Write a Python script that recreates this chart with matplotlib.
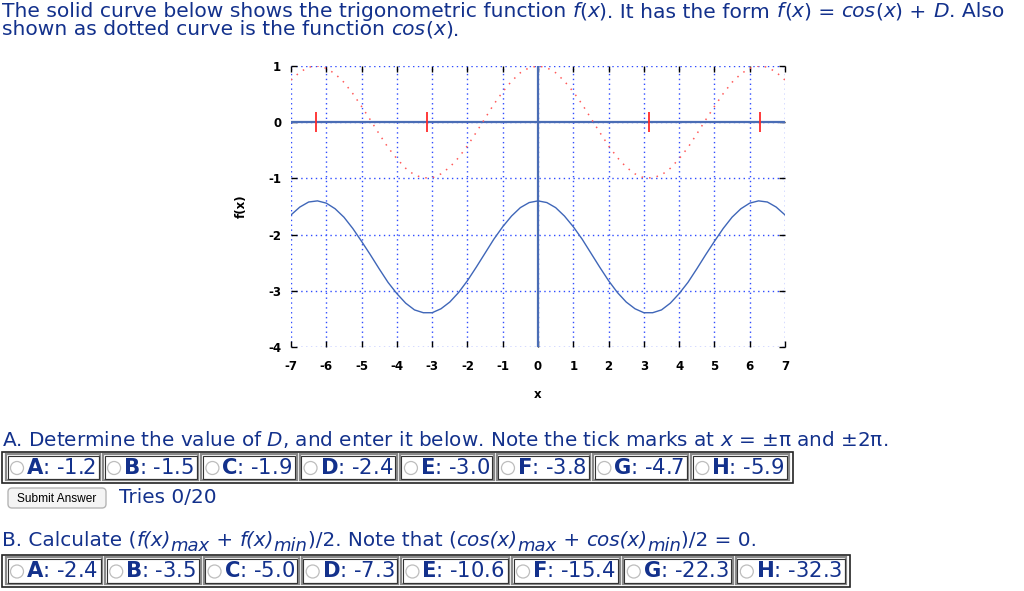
import matplotlib
matplotlib.use("Agg")
import matplotlib.pyplot as plt
from matplotlib.patches import Rectangle, Circle, FancyBboxPatch

plt.rcParams['mathtext.fontset'] = 'dejavusans'

# curve, x step 0.25
x_vals = [-7.0, -6.75, -6.5, -6.25, -6.0, -5.75, -5.5, -5.25, -5.0, -4.75, -4.5, -4.25,
          -4.0, -3.75, -3.5, -3.25, -3.0, -2.75, -2.5, -2.25, -2.0, -1.75, -1.5, -1.25,
          -1.0, -0.75, -0.5, -0.25, 0.0, 0.25, 0.5, 0.75, 1.0, 1.25, 1.5, 1.75,
          2.0, 2.25, 2.5, 2.75, 3.0, 3.25, 3.5, 3.75, 4.0, 4.25, 4.5, 4.75,
          5.0, 5.25, 5.5, 5.75, 6.0, 6.25, 6.5, 6.75, 7.0]
cos_vals = [0.75, 0.89, 0.98, 1.0, 0.96, 0.86, 0.71, 0.51, 0.28, 0.04, -0.21, -0.45,
            -0.65, -0.82, -0.94, -0.99, -0.99, -0.92, -0.80, -0.63, -0.42, -0.18, 0.07, 0.32,
            0.54, 0.73, 0.88, 0.97, 1.0, 0.97, 0.88, 0.73, 0.54, 0.32, 0.07, -0.18,
            -0.42, -0.63, -0.80, -0.92, -0.99, -0.99, -0.94, -0.82, -0.65, -0.45, -0.21, 0.04,
            0.28, 0.51, 0.71, 0.86, 0.96, 1.0, 0.98, 0.89, 0.75]
f_vals = [-1.65, -1.51, -1.42, -1.40, -1.44, -1.54, -1.69, -1.89, -2.12, -2.36, -2.61, -2.85,
          -3.05, -3.22, -3.34, -3.39, -3.39, -3.32, -3.20, -3.03, -2.82, -2.58, -2.33, -2.08,
          -1.86, -1.67, -1.52, -1.43, -1.40, -1.43, -1.52, -1.67, -1.86, -2.08, -2.33, -2.58,
          -2.82, -3.03, -3.20, -3.32, -3.39, -3.39, -3.34, -3.22, -3.05, -2.85, -2.61, -2.36,
          -2.12, -1.89, -1.69, -1.54, -1.44, -1.40, -1.42, -1.51, -1.65]
pi_marks = [-6.28, -3.14, 3.14, 6.28]
x_ticks = [-7, -6, -5, -4, -3, -2, -1, 0, 1, 2, 3, 4, 5, 6, 7]
y_ticks = [1, 0, -1, -2, -3, -4]

letters = ['A', 'B', 'C', 'D', 'E', 'F', 'G', 'H']
answers_a = ['-1.2', '-1.5', '-1.9', '-2.4', '-3.0', '-3.8', '-4.7', '-5.9']
answers_b = ['-2.4', '-3.5', '-5.0', '-7.3', '-10.6', '-15.4', '-22.3', '-32.3']

navy = '#13318c'
W, H = 1024, 591
fig = plt.figure(figsize=(W / 100, H / 100), dpi=100)

# ---- the plot ----
ax = fig.add_axes([291 / W, 1 - 347 / H, 494 / W, 281 / H])
ax.set_xlim(-7, 7)
ax.set_ylim(-4, 1)
ax.set_xticks(x_ticks)
ax.set_yticks(y_ticks)
ax.set_xticklabels([str(t) for t in x_ticks], fontweight='bold', fontsize=8.5)
ax.set_yticklabels([str(t) for t in y_ticks], fontweight='bold', fontsize=8.5)
ax.tick_params(direction='in', length=4, width=1, pad=7, top=True, right=True)
ax.tick_params(axis='x', pad=9)
ax.grid(True, color='#2f4cff', linestyle=(0, (1, 2.5)), linewidth=1)
for s in ax.spines.values():
    s.set_visible(False)
ax.axhline(0, color='#4a6db5', lw=1.6, zorder=3)
ax.axvline(0, color='#4a6db5', lw=1.6, zorder=3)
ax.plot(x_vals, cos_vals, color='#ff5a5a', lw=1.1, linestyle=(0, (1, 4)), zorder=4)
ax.plot(x_vals, f_vals, color='#3f66b8', lw=1, zorder=4)
ax.vlines(pi_marks, -0.18, 0.18, color='#ff2a2a', lw=1.3, zorder=5)
ax.set_xlabel('x', fontweight='bold', fontsize=8.5, labelpad=11)
ax.set_ylabel('f(x)', fontweight='bold', fontsize=8.5, labelpad=15)

# ---- page overlay in pixel coords ----
pg = fig.add_axes([0, 0, 1, 1], zorder=10)
pg.set_xlim(0, W)
pg.set_ylim(H, 0)
pg.axis('off')
pg.patch.set_alpha(0)
renderer = fig.canvas.get_renderer()

fs = 14.4


def seg_width(s, size, style):
    # measure with guard letters so spaces at the ends count
    a = pg.text(0, 0, 'X' + s + 'X', fontsize=size, style=style)
    b = pg.text(0, 0, 'XX', fontsize=size, style=style)
    w = a.get_window_extent(renderer).width - b.get_window_extent(renderer).width
    a.remove()
    b.remove()
    return w


def rich(x, y, parts, size0):
    # parts: (text, style, sub)
    for s, style, sub in parts:
        size = size0 * 0.9 if sub else size0
        dy = 5 if sub else 0
        pg.text(x, y + dy, s, fontsize=size, style=style, color=navy, va='baseline')
        x += seg_width(s, size, style)


rich(2, 17, [('The solid curve below shows the trigonometric function ', 'normal', False),
             ('f', 'italic', False), ('(', 'normal', False), ('x', 'italic', False),
             ('). It has the form ', 'normal', False), ('f', 'italic', False),
             ('(', 'normal', False), ('x', 'italic', False), (') = ', 'normal', False),
             ('cos', 'italic', False), ('(', 'normal', False), ('x', 'italic', False),
             (') + ', 'normal', False), ('D', 'italic', False), ('. Also', 'normal', False)], 14.55)
rich(2, 35, [('shown as dotted curve is the function ', 'normal', False),
             ('cos', 'italic', False), ('(', 'normal', False), ('x', 'italic', False),
             (').', 'normal', False)], 14.55)
pg.text(2, 446, r'A. Determine the value of $\mathit{D}$, and enter it below. '
        r'Note the tick marks at $\mathit{x}$ = ±π and ±2π.',
        fontsize=fs, color=navy, va='baseline')
rich(2, 546, [('B. Calculate (', 'normal', False), ('f(x)', 'italic', False),
              ('max', 'italic', True), (' + ', 'normal', False), ('f(x)', 'italic', False),
              ('min', 'italic', True), (')/2. Note that (', 'normal', False),
              ('cos(x)', 'italic', False), ('max', 'italic', True), (' + ', 'normal', False),
              ('cos(x)', 'italic', False), ('min', 'italic', True),
              (')/2 = 0.', 'normal', False)], fs)

# submit button + tries
pg.add_patch(FancyBboxPatch((8, 488), 98, 20, boxstyle='round,pad=0,rounding_size=4',
                            fc='#f4f4f4', ec='#b5b5b5', lw=1))
pg.text(57, 498.5, 'Submit Answer', fontsize=8.6, family='Liberation Sans',
        ha='center', va='center', color='black')
pg.text(119, 503, 'Tries 0/20', fontsize=fs, color=navy, va='baseline')

ofs = 15.2


def option_row(y0, y1, answers):
    x = 6
    for let, val in zip(letters, answers):
        t = pg.text(x + 20, (y0 + y1) / 2 + 0.5, r'$\mathbf{%s}$: %s' % (let, val),
                    fontsize=ofs, color=navy, va='center')
        w = t.get_window_extent(renderer).width
        right = x + 20 + w + 4
        pg.add_patch(Rectangle((x, y0), right - x, y1 - y0, fill=False, ec='#8a8a8a', lw=1.6))
        pg.add_patch(Rectangle((x + 1.5, y0 + 1.5), right - x - 3, y1 - y0 - 3,
                               fill=False, ec='#333333', lw=0.8))
        pg.add_patch(Circle((x + 11, (y0 + y1) / 2 + 1), 6.5, fill=False, ec='#bdbdbd', lw=0.9))
        x = right + 3
    pg.add_patch(Rectangle((2, y0 - 2), x - 1, y1 - y0 + 5, fill=False, ec='#222222', lw=1.2))


option_row(454, 480, answers_a)
option_row(557, 584, answers_b)

fig.savefig('out.png', dpi=100)
